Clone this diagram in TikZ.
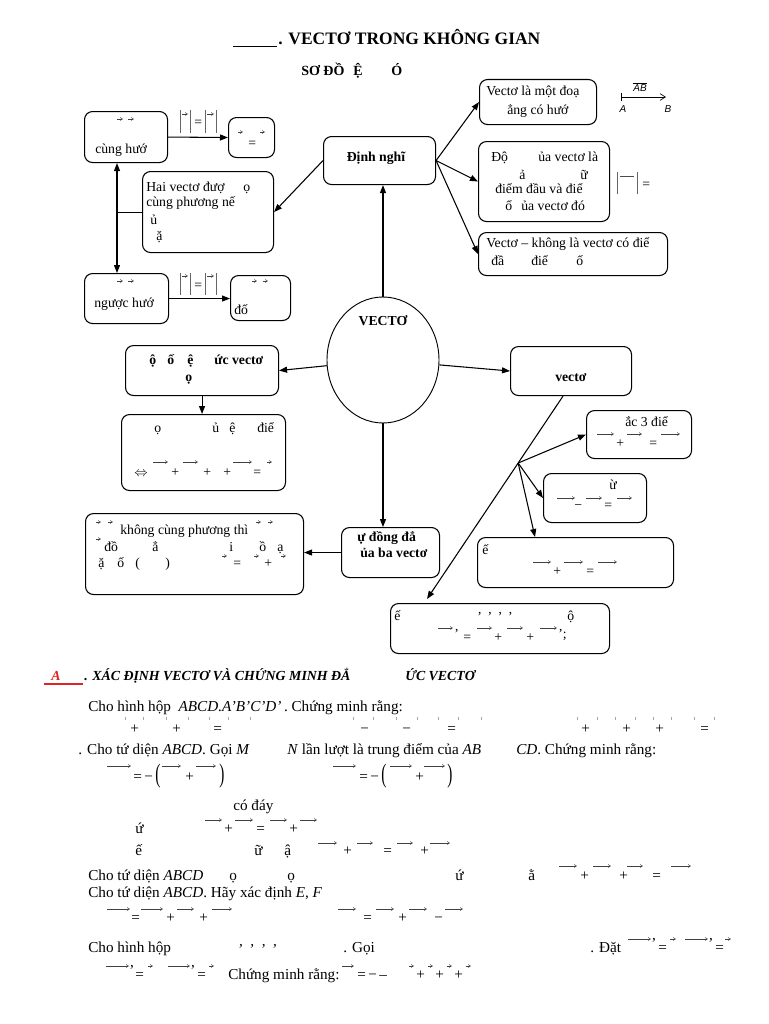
\documentclass[tikz,border=0pt]{standalone}
\usepackage{graphicx}
\usepackage{fontspec}
\setmainfont{Liberation Serif}
\newfontfamily\sansf{Liberation Sans}
\usetikzlibrary{shapes.geometric,arrows.meta,calc}
\definecolor{hred}{RGB}{225,35,35}
\newcounter{tn}
\newcommand\T[4][tt]{\stepcounter{tn}\node[#1] (t\arabic{tn}) at (#2,#3) {#4};}
\newcommand\VA[3]{\draw[va] (#1,#3) -- (#2,#3);}
\newcommand\rbox[5]{\node[box,anchor=north west,minimum width={(#4-#2)*0.75pt},minimum height={(#5-#3)*0.75pt}] (#1) at (#2,#3) {};}
\newcommand\tick[1]{\draw[black!35,line width=0.4pt] (#1,717) -- (#1,720);}
\newcommand\tallL{\raisebox{-0.11em}{\scalebox{1}[1.75]{(}}}
\newcommand\tallR{\raisebox{-0.11em}{\scalebox{1}[1.75]{)}}}
\begin{document}
\begin{tikzpicture}[x=0.75pt,y=-0.75pt,
 box/.style={draw, rounded corners=6pt, line width=0.8pt, inner sep=0pt},
 con/.style={draw, line width=0.8pt, -{Triangle[length=6pt,width=4.5pt]}},
 tb/.style={font=\fontsize{10.3}{12}\selectfont, anchor=base west, inner sep=0pt},
 tbb/.style={font=\fontsize{10.3}{12}\selectfont\bfseries, anchor=base west, inner sep=0pt},
 tt/.style={font=\fontsize{11.4}{13}\selectfont, anchor=base west, inner sep=0pt},
 title/.style={font=\fontsize{13.1}{15}\selectfont\bfseries, anchor=base west, inner sep=0pt},
 sub/.style={font=\fontsize{10.5}{12}\selectfont\bfseries, anchor=base west, inner sep=0pt},
 head/.style={font=\fontsize{10.4}{12}\selectfont\bfseries\itshape, anchor=base west, inner sep=0pt},
 va/.style={line width=0.35pt, black!75, -{Straight Barb[length=1.8pt,width=2.2pt]}},
 barl/.style={line width=0.45pt, black!60},
]
\fill[white] (0,0) rectangle (768,1024);
\useasboundingbox (0,0) rectangle (768,1024);

% ---------- title ----------
\draw[line width=1.1pt] (233,46.5) -- (277,46.5);
\T[title]{278}{45}{. VECTƠ TRONG KHÔNG GIAN}
\T[sub]{301}{75}{SƠ ĐỒ}
\T[sub]{353}{75}{Ệ}
\T[sub]{391}{75}{Ó}

% ---------- boxes ----------
\rbox{b1}{84}{111}{167}{162}
\rbox{b2}{228}{117}{274}{157}
\rbox{b5}{142}{171}{273}{252}
\rbox{bn}{84}{273}{168}{323}
\rbox{bdo}{230}{275}{290}{320}
\rbox{dn}{323}{136}{435}{184}
\rbox{d1}{479}{79}{596}{124}
\rbox{d2}{478}{141}{609}{221}
\rbox{d3}{478}{232}{667}{275}
\rbox{bq}{125}{345}{278}{395}
\rbox{br}{121}{414}{285}{490}
\rbox{bv}{510}{346}{631}{395}
\rbox{ba}{586}{410}{691}{458}
\rbox{bu}{543}{473}{646}{522}
\rbox{be}{477}{537}{673}{587}
\rbox{bk}{85}{513}{303}{594}
\rbox{bd}{341}{527}{439}{577}
\rbox{bb}{390}{603}{609}{653}
\node[draw, ellipse, line width=0.7pt, minimum width=84pt, minimum height=94.5pt, inner sep=0pt] (E) at (383,360) {};

% ---------- connectors ----------
\draw[con] (b1.east) -- (b2.west);
\draw[con] (bn.east) -- (bn.east -| bdo.west);
\draw[con] (dn.west) -- (b5.east);
\coordinate (vtop) at ($(b1.south west)+(33,0)$);
\coordinate (vbot) at ($(bn.north west)+(33,0)$);
\draw[line width=0.8pt, {Triangle[length=6pt,width=4.5pt]}-{Triangle[length=6pt,width=4.5pt]}] (vtop) -- (vbot);
\draw[line width=0.8pt] (b5.west) -- (b5.west -| vtop);
\draw[con] (dn.east) -- (d1.west);
\draw[con] (dn.east) -- (d2.west);
\draw[con] (dn.east) -- (d3.west);
\draw[con] (E.north) -- (E.north |- dn.south);
\draw[con] (E) -- (bq.east);
\draw[con] (E) -- (bv.west);
\draw[con] (bq.south) -- (bq.south |- br.north);
\draw[con] (E.south) -- (E.south |- bd.north);
\draw[con] (bd.west) -- (bd.west -| bk.east);
\coordinate (L1) at ($(bv.south)+(-8,0)$);
\coordinate (L2) at ($(bb.north west)+(37,-4)$);
\draw[con] (L1) -- (L2);
\coordinate (Br) at ($(L1)!0.33!(L2)$);
\draw[con] (Br) -- (ba.west);
\draw[con] (Br) -- (bu.west);
\draw[con] (Br) -- ($(be.north west)+(58,0)$);

% ---------- top-left boxes ----------
\VA{117}{123}{119}\VA{128}{134}{119}
\T[tb]{95}{153}{cùng hướ}
\draw[barl] (180,110) -- (180,133); \draw[barl] (190,110) -- (190,133);
\VA{182}{188}{114}
\T[tb]{194}{126}{=}
\draw[barl] (205,110) -- (205,133); \draw[barl] (216,110) -- (216,133);
\VA{207}{214}{114}
\VA{238}{243}{132}\T[tb]{248}{147}{=}\VA{260}{265}{132}

\T[tb]{146}{191}{Hai vectơ đượ}
\T[tb]{243}{191}{ọ}
\T[tb]{146}{206}{cùng phương nế}
\T[tb]{150}{224}{ủ}
\T[tb]{156}{240}{ặ}

\VA{117}{123}{281}\VA{128}{134}{281}
\T[tb]{94}{307}{ngược hướ}
\draw[barl] (180,273) -- (180,295); \draw[barl] (190,273) -- (190,295);
\VA{182}{188}{276}
\T[tb]{194}{289}{=}
\draw[barl] (205,273) -- (205,295); \draw[barl] (216,273) -- (216,295);
\VA{207}{214}{276}
\VA{252}{257}{281}\VA{263}{268}{281}
\T[tb]{234}{314}{đố}

% ---------- definition ----------
\node[font=\fontsize{10.3}{12}\selectfont\bfseries, inner sep=0pt] (tdn) at (376,158) {Định nghĩ};
\T[tb]{486}{95}{Vectơ là một đoạ}
\T[tb]{507}{114}{ẳng có hướ}
\node[font=\sansf\itshape\fontsize{7.5}{9}\selectfont, inner sep=0pt] (tAB) at (640,88) {AB};
\draw[line width=0.4pt] ($(tAB.north west)+(0,-1)$) -- ($(tAB.north east)+(0,-1)$);
\draw[line width=0.5pt] (621,93) -- (621,101);
\draw[line width=0.5pt, -{Straight Barb[length=4pt,width=5pt]}] (621,97) -- (666,97);
\node[font=\sansf\itshape\fontsize{7.5}{9}\selectfont, inner sep=0pt] (tA) at (623,109) {A};
\node[font=\sansf\itshape\fontsize{7.5}{9}\selectfont, inner sep=0pt] (tB) at (668,109) {B};

\T[tb]{491}{161}{Độ}
\T[tb]{538}{161}{ủa vectơ là}
\T[tb]{519}{179}{ả}
\T[tb]{580}{179}{ữ}
\T[tb]{495}{193}{điểm đầu và điể}
\T[tb]{505}{210}{ố}
\T[tb]{521}{210}{ủa vectơ đó}
\draw[barl] (617,172) -- (617,194); \draw[barl] (637,172) -- (637,194);
\draw[line width=0.35pt, black!70] (620,176) -- (634,176);
\T[tb]{642}{188}{=}

\T[tb]{486}{247}{Vectơ – không là vectơ có điể}
\T[tb]{491}{265}{đầ}
\T[tb]{531}{265}{điể}
\T[tb]{576}{265}{ố}

% ---------- centre ----------
\node[font=\fontsize{10.3}{12}\selectfont\bfseries, inner sep=0pt] (tvec) at (383,321) {VECTƠ};

\T[tbb]{149}{364}{ộ}
\T[tbb]{167}{364}{ố}
\T[tbb]{187}{364}{ệ}
\T[tbb]{214}{364}{ức vectơ}
\T[tbb]{185}{381}{ọ}

\T[tb]{154}{432}{ọ}
\T[tb]{212}{432}{ủ}
\T[tb]{229}{432}{ệ}
\T[tb]{257}{432}{điể}
\T[tb]{134}{476}{$\Leftrightarrow$}
\VA{153}{168}{462}\T[tb]{171}{476}{+}
\VA{183}{198}{462}\T[tb]{203}{476}{+}
\T[tb]{223}{476}{+}
\VA{233}{252}{462}\T[tb]{253}{476}{=}
\VA{267}{272}{462}

\T[tbb]{555}{381}{vectơ}
\T[tb]{625}{426}{ắc 3 điể}
\VA{597}{614}{434}\T[tb]{616}{447}{+}
\VA{627}{642}{434}\T[tb]{649}{447}{=}
\VA{661}{680}{434}
\T[tb]{609}{489}{ừ}
\VA{557}{575}{498}\T[tb]{574}{509}{−}
\VA{586}{602}{498}\T[tb]{604}{509}{=}
\VA{617}{632}{498}
\T[tb]{482}{554}{ế}
\VA{533}{551}{562}\T[tb]{553}{575}{+}
\VA{564}{583}{562}\T[tb]{586}{575}{=}
\VA{598}{617}{562}

\VA{96}{101}{522}\VA{108}{113}{522}
\T[tb]{120}{534}{không cùng phương thì}
\VA{256}{261}{522}\VA{268}{273}{522}
\VA{96}{101}{539}
\T[tb]{104}{551}{đồ}
\T[tb]{152}{551}{ẳ}
\T[tb]{229}{551}{i}
\T[tb]{259}{551}{ồ}
\T[tb]{277}{551}{ạ}
\T[tb]{98}{567}{ặ}
\T[tb]{117}{567}{ố}
\T[tb]{135}{567}{(}
\T[tb]{165}{567}{)}
\VA{222}{227}{556}\T[tb]{233}{567}{=}
\VA{254}{259}{556}\T[tb]{264}{567}{+}
\VA{281}{286}{556}

\T[tbb]{357}{541}{ự đồng đẳ}
\T[tbb]{360}{557}{ủa ba vectơ}

\T[tb]{394}{620}{ế}
\T[tb]{477}{621}{’\, ’\, ’\, ’}
\T[tb]{567}{620}{ộ}
\VA{438}{453}{628}\T[tb]{454}{638}{’}\T[tb]{463}{641}{=}
\VA{477}{492}{628}\T[tb]{494}{641}{+}
\VA{507}{523}{628}\T[tb]{526}{641}{+}
\VA{540}{557}{628}\T[tb]{558}{638}{’;}

% ---------- section A ----------
\T[head]{51}{680}{\color{hred}A}
\draw[hred, line width=0.9pt] (44,684) -- (83,684);
\T[head]{84}{680}{. XÁC ĐỊNH VECTƠ VÀ CHỨNG MINH ĐẲ}
\T[head]{405}{680}{ỨC VECTƠ}

\T{88}{711}{Cho hình hộp \ \textit{ABCD.A'B'C'D'}\,. Chứng minh rằng:}
\foreach \x in {125,143,166,188,209,228,250,353,373,396,417,438,458,481,577,597,615,635,653,671,694,714} {\tick{\x}}
\T{130}{733}{+}\T{172}{733}{+}\T{213}{733}{=}
\T{360}{733}{−}\T{402}{733}{−}\T{447}{733}{=}
\T{581}{733}{+}\T{622}{733}{+}\T{655}{733}{+}\T{700}{733}{=}

\T{78}{754}{. Cho tứ diện \textit{ABCD}. Gọi \textit{M}}
\T{287}{754}{\textit{N} lần lượt là trung điểm của \textit{AB}}
\T{516}{754}{\textit{CD}. Chứng minh rằng:}

\VA{107}{131}{766}\T{133}{781}{=\,−\,\tallL}
\VA{162}{181}{766}\T{185}{781}{+}
\VA{196}{216}{766}\T{219}{781}{\tallR}
\VA{333}{356}{766}\T{359}{781}{=\,−\,\tallL}
\VA{390}{412}{766}\T{415}{781}{+}
\VA{424}{445}{766}\T{447}{781}{\tallR}

\T{233}{810}{có đáy}
\T{135}{833}{ứ}
\VA{205}{222}{820}\T{224}{833}{+}
\VA{235}{253}{820}\T{256}{833}{=}
\VA{270}{287}{820}\T{289}{833}{+}
\VA{300}{317}{820}

\T{135}{855}{ế}
\T{254}{855}{ữ}
\T{284}{855}{ậ}
\VA{318}{337}{843}\T{343}{855}{+}
\VA{357}{373}{843}\T{383}{855}{=}
\VA{397}{413}{843}\T{420}{855}{+}
\VA{430}{450}{843}

\T{88}{880}{Cho tứ diện \textit{ABCD}}
\T{229}{880}{ọ}
\T{287}{880}{ọ}
\T{455}{880}{ứ}
\T{528}{880}{ằ}
\VA{559}{577}{866}\T{580}{880}{+}
\VA{593}{611}{866}\T{619}{880}{+}
\VA{627}{643}{866}\T{652}{880}{=}
\VA{671}{691}{866}

\T{88}{897}{Cho tứ diện \textit{ABCD}. Hãy xác định \textit{E}, \textit{F}}
\VA{107}{130}{909}\T{131}{922}{=}
\VA{141}{163}{909}\T{166}{922}{+}
\VA{177}{194}{909}\T{199}{922}{+}
\VA{212}{232}{909}
\VA{338}{356}{909}\T{363}{922}{=}
\VA{376}{394}{909}\T{398}{922}{+}
\VA{409}{427}{909}\T{434}{922}{−}
\VA{445}{463}{909}

\T{88}{952}{Cho hình hộp}
\T{237}{954}{\textit{’\, ’\, ’\, ’}}
\T{343}{952}{. Gọi}
\T{590}{952}{. Đặt}
\VA{628}{651}{939}\T{651}{948}{’}\T{658}{952}{=}
\VA{670}{676}{939}
\VA{685}{708}{939}\T{708}{948}{’}\T{715}{952}{=}
\VA{725}{731}{939}

\VA{106}{129}{966}\T{129}{975}{’}\T{135}{979}{=}
\VA{148}{153}{966}
\VA{168}{190}{966}\T{190}{975}{’}\T{197}{979}{=}
\VA{209}{214}{966}
\T{228}{979}{Chứng minh rằng:}
\VA{342}{354}{966}\T{357}{979}{=\,−\,–}
\VA{409}{414}{966}\T{416}{979}{+}
\VA{428}{433}{966}\T{435}{979}{+}
\VA{447}{452}{966}\T{454}{979}{+}
\VA{466}{471}{966}
\end{tikzpicture}
\end{document}
